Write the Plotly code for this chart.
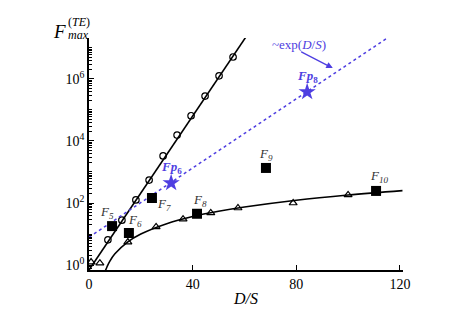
import numpy as np
import plotly.graph_objects as go

# ---- data ----
# open circles (steep exponential series) and their fitted line
circ_x = [7.3, 12.7, 18.1, 23.2, 28.6, 34.0, 39.4, 44.8, 50.2, 55.6]
circ_y = [6.5, 28, 126, 550, 3300, 15500, 65000, 2.8e5, 1.26e6, 5.1e6]
circ_fit_x = [0.0, 62.0]
circ_fit_y = [0.69, 3.4e7]

# open triangles and their fitted curve
tri_x = [0.8, 4.2, 15.0, 25.9, 36.3, 47.0, 57.5, 78.8, 100.0]
tri_y = [1.25, 1.15, 5.5, 17, 30, 48, 69, 100, 182]
tri_fit_x = [6, 7, 8, 10, 15, 20, 30, 40, 50, 60, 80, 100, 121]
tri_fit_y = [0.56, 0.9, 1.32, 2.3, 5.6, 10.0, 21.6, 36.5, 54, 74, 123, 181, 250]

# blue dotted trend, ~exp(D/S)
exp_x = [0.0, 118.0]
exp_y = [7.9, 3.0e7]

# blue stars Fp6, Fp8
fp_x = [31.7, 84.2]
fp_y = [443, 3.8e5]
fp_names = ["6", "8"]

# black squares F5..F10
sq_x = [8.9, 15.4, 24.3, 41.7, 68.3, 110.8]
sq_y = [18, 10.8, 145, 45, 1350, 245]
sq_names = ["5", "6", "7", "8", "9", "10"]

x_ticks = [0, 40, 80, 120]
y_ticks = [1, 1e2, 1e4, 1e6]
y_tick_text = ["10<sup>0</sup>", "10<sup>2</sup>", "10<sup>4</sup>", "10<sup>6</sup>"]

BLUE = "rgb(78,62,225)"
SERIF = "Liberation Serif"

fig = go.Figure()

fig.add_trace(go.Scatter(x=circ_fit_x, y=circ_fit_y, mode="lines",
                         line=dict(color="black", width=1.6), hoverinfo="skip"))
fig.add_trace(go.Scatter(x=circ_x, y=circ_y, mode="markers",
                         marker=dict(symbol="circle-open", size=6.5, color="black",
                                     line=dict(width=1.2))))
fig.add_trace(go.Scatter(x=tri_fit_x, y=tri_fit_y, mode="lines", line_shape="spline",
                         line=dict(color="black", width=1.6), hoverinfo="skip"))
fig.add_trace(go.Scatter(x=tri_x, y=tri_y, mode="markers",
                         marker=dict(symbol="triangle-up-open", size=7, color="black",
                                     line=dict(width=1.2))))
fig.add_trace(go.Scatter(x=exp_x, y=exp_y, mode="lines",
                         line=dict(color=BLUE, width=1.5, dash="dot")))
fig.add_trace(go.Scatter(x=fp_x, y=fp_y, mode="markers",
                         marker=dict(symbol="star", size=13, color=BLUE)))
fig.add_trace(go.Scatter(x=sq_x, y=sq_y, mode="markers",
                         marker=dict(symbol="square", size=10, color="black")))

ann = []
# square labels: (dx, dy) pixel shifts from the square
sq_off = [(-5, -14), (6, -12), (12, 6), (3, -13), (0, -13), (3, -14)]
for x, y, n, (dx, dy) in zip(sq_x, sq_y, sq_names, sq_off):
    ann.append(dict(x=x, y=np.log10(y), xref="x", yref="y", showarrow=False,
                    xshift=dx, yshift=-dy,
                    text=f"<i>F</i><sub><i>{n}</i></sub>",
                    font=dict(family=SERIF, size=13, color="#333")))
for x, y, n in zip(fp_x, fp_y, fp_names):
    ann.append(dict(x=x, y=np.log10(y), xref="x", yref="y", showarrow=False,
                    yshift=15,
                    text=f"<b><i>Fp</i></b><sub><b>{n}</b></sub>",
                    font=dict(family=SERIF, size=13, color=BLUE)))
# label and pointer for the dotted trend
ann.append(dict(x=94.1, y=6.35, xref="x", yref="y", ax=-33, ay=-17,
                showarrow=True, arrowhead=2, arrowsize=1, arrowwidth=1.3,
                arrowcolor=BLUE, text=""))
ann.append(dict(x=81.0, y=7.1, xref="x", yref="y", showarrow=False,
                text="~exp(<i>D</i>/<i>S</i>)",
                font=dict(family=SERIF, size=13, color=BLUE)))
# y-axis title F_max^(TE)
ann.append(dict(x=-0.068, y=1.028, xref="paper", yref="paper", showarrow=False,
                xanchor="right", yanchor="middle",
                text="<i>F</i>", font=dict(family=SERIF, size=19, color="black")))
ann.append(dict(x=-0.072, y=1.068, xref="paper", yref="paper", showarrow=False,
                xanchor="left", yanchor="middle",
                text="(<i>TE</i>)", font=dict(family=SERIF, size=12, color="black")))
ann.append(dict(x=-0.072, y=1.013, xref="paper", yref="paper", showarrow=False,
                xanchor="left", yanchor="middle",
                text="<i>max</i>", font=dict(family=SERIF, size=12, color="black")))

fig.update_layout(
    width=474, height=325,
    margin=dict(l=89, r=71, t=38, b=55),
    paper_bgcolor="white", plot_bgcolor="white",
    showlegend=False,
    annotations=ann,
    font=dict(family=SERIF, size=14, color="black"),
)
fig.update_xaxes(range=[0, 121.2], showline=True, linecolor="black", linewidth=1.6,
                 showgrid=False, zeroline=False, ticks="inside", ticklen=5,
                 tickwidth=1.2, tickcolor="black", tickvals=x_ticks,
                 tickfont=dict(family=SERIF, size=14),
                 title=dict(text="<i>D/S</i>", font=dict(family=SERIF, size=16),
                            standoff=2))
fig.update_yaxes(type="log", range=[-0.16, 7.32], showline=True, linecolor="black",
                 linewidth=1.6, showgrid=False, zeroline=False, ticks="inside",
                 ticklen=5, tickwidth=1.2, tickcolor="black",
                 tickvals=y_ticks, ticktext=y_tick_text,
                 tickfont=dict(family=SERIF, size=14),
                 minor=dict(ticks="inside", ticklen=3, tickcolor="black", tickwidth=1,
                            dtick="D1"))

fig.write_html("out.html")
